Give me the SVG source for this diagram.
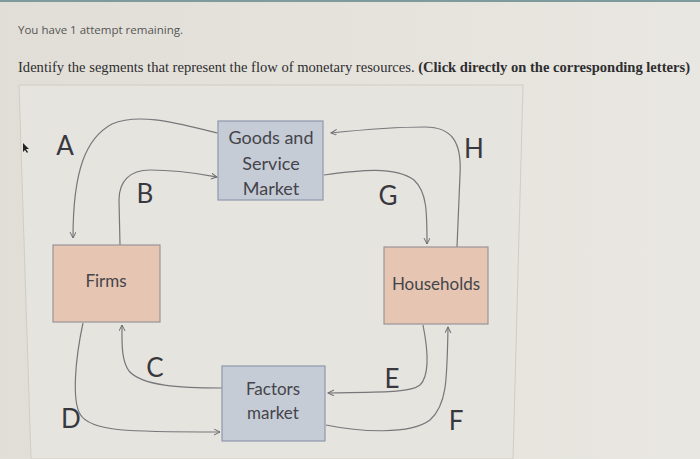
<svg xmlns="http://www.w3.org/2000/svg" width="700" height="459" viewBox="0 0 700 459">
<defs>
<linearGradient id="bg" x1="0" y1="0" x2="1" y2="0">
<stop offset="0" stop-color="#e1ded7"/>
<stop offset="1" stop-color="#e9e7e1"/>
</linearGradient>
<marker id="arr" markerWidth="8" markerHeight="8" refX="6" refY="3" orient="auto" markerUnits="userSpaceOnUse">
<path d="M0,0 L6,3 L0,6" fill="none" stroke="#6e6e72" stroke-width="1"/>
</marker>
<style>
.lbl{font-family:Lato,"Open Sans","Liberation Sans",sans-serif;font-size:26px;fill:#38383f;text-anchor:middle}
.bt{font-family:Lato,"Open Sans","Liberation Sans",sans-serif;font-size:18px;fill:#44444a;text-anchor:middle}
.ht{font-family:Lato,"Open Sans","Liberation Sans",sans-serif;font-size:17px;fill:#44444a;text-anchor:middle}
.blue{fill:#c6ccd6;stroke:#8e98ad;stroke-width:1.2}
.peach{fill:#e6c6b2;stroke:#9a9498;stroke-width:1.2}
.c{fill:none;stroke:#77777b;stroke-width:1.2;marker-end:url(#arr)}
.cn{fill:none;stroke:#77777b;stroke-width:1.2}
</style>
</defs>
<rect width="700" height="459" fill="url(#bg)"/>
<rect x="0" y="0" width="700" height="2" fill="#7d9a9c"/>
<text x="18" y="34" font-family="Open Sans,Liberation Sans,sans-serif" font-size="11" fill="#555" textLength="165" lengthAdjust="spacingAndGlyphs">You have 1 attempt remaining.</text>
<text x="18" y="72" font-family="Liberation Serif,serif" font-size="15" fill="#2e2e30" textLength="672" lengthAdjust="spacingAndGlyphs">Identify the segments that represent the flow of monetary resources. <tspan font-weight="bold">(Click directly on the corresponding letters)</tspan></text>
<polygon points="19,85 523,85 513,459 31,459" fill="#e6e4de" stroke="#cfccc5" stroke-width="1"/>
<polygon points="23,143 23,152 25,150 27,153 28,152 26,149 29,149" fill="#222"/>
<g id="connectors">
<path id="A" class="c" d="M218,133 C180,124 140,112 112,124 C86,138 73,170 73,238"/>
<path id="B" class="c" d="M120,245 L119,200 C119,181 130,170 150,170 C180,170 200,174 217,177"/>
<path id="G" class="c" d="M324,175 C360,170 395,166 414,180 C427,192 427,212 427,244"/>
<path id="H" class="c" d="M457,247 L460,175 C462,142 452,127 425,127 C390,127 360,130 331,133"/>
<path id="C" class="c" d="M222,388 C180,388 142,386 129,371 C121,360 122,342 122,325"/>
<path id="D" class="c" d="M83,323 C75,360 72,400 80,414 C90,432 130,432 220,432"/>
<path id="E" class="c" d="M423,325 C428,350 430,375 420,385 C410,393 380,392 328,393"/>
<path id="F" class="c" d="M326,425 C360,432 410,435 430,420 C447,405 447,380 448,327"/>
</g>
<g id="goods">
<rect class="blue" x="218" y="121" width="105" height="79"/>
<text class="bt" x="271" y="144">Goods and</text>
<text class="bt" x="271" y="170">Service</text>
<text class="bt" x="271" y="195">Market</text>
</g>
<g id="firms">
<rect class="peach" x="53" y="245" width="107" height="77"/>
<text class="ht" x="106" y="287">Firms</text>
</g>
<g id="households">
<rect class="peach" x="384" y="247" width="104" height="77"/>
<text class="ht" x="436" y="290">Households</text>
</g>
<g id="factors">
<rect class="blue" x="222" y="366" width="103" height="75"/>
<text class="ht" x="273" y="395">Factors</text>
<text class="ht" x="273" y="419">market</text>
</g>
<g id="labels">
<text class="lbl" x="65" y="155">A</text>
<text class="lbl" x="145" y="203">B</text>
<text class="lbl" x="388" y="205">G</text>
<text class="lbl" x="474" y="158">H</text>
<text class="lbl" x="155" y="377">C</text>
<text class="lbl" x="71" y="428">D</text>
<text class="lbl" x="392" y="388">E</text>
<text class="lbl" x="456" y="430">F</text>
</g>
</svg>
